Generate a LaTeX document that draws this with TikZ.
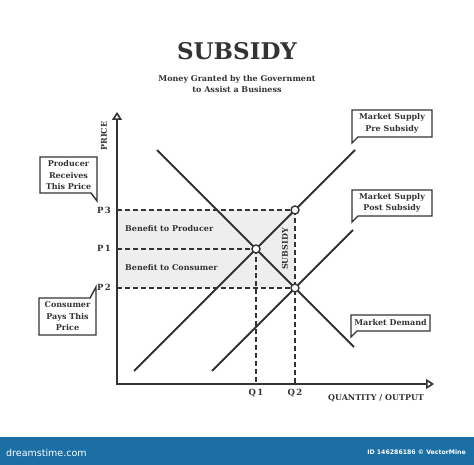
\documentclass[tikz,border=0pt]{standalone}
\usepackage{fontspec}
\setmainfont{DejaVu Serif}
\usetikzlibrary{arrows.meta}
\definecolor{ink}{HTML}{333333}
\definecolor{areagray}{HTML}{EEEEEE}
\definecolor{barblue}{HTML}{1B6FA5}
\tikzset{
  axisline/.style={ink, line width=2pt, -{Triangle[open, length=8pt, width=10pt, line width=1.6pt]}},
  curve/.style={ink, line width=1.8pt},
  guide/.style={ink, line width=1.4pt, dash pattern=on 5pt off 3pt},
  dot/.style={circle, draw=ink, fill=white, line width=1.4pt, minimum size=8pt, inner sep=0pt},
  callout/.style={draw=ink, line width=1.4pt, fill=white, line join=miter},
  lbl/.style={text=ink, font=\bfseries\fontsize{8}{11.5}\selectfont, align=center, inner sep=0pt},
  tick/.style={text=ink, font=\bfseries\fontsize{8.5}{10}\selectfont, inner sep=0pt},
}
\begin{document}
\begin{tikzpicture}[x=1pt, y=-1pt]
\useasboundingbox (0,0) rectangle (474,465);
\fill[white] (0,0) rectangle (474,465);

% title
\node[text=ink, font=\bfseries\fontsize{23}{24}\selectfont, inner sep=0pt] (title) at (237,51) {SUBSIDY};
\node[lbl] (subtitle) at (237,84) {Money Granted by the Government\\to Assist a Business};

% shaded area
\fill[areagray] (117,210) rectangle (295,288);

% coordinates
\coordinate (O) at (117,384);
\coordinate (Ytop) at (117,112);
\coordinate (Xend) at (434,384);
\coordinate (E1) at (256,249);
\coordinate (E3) at (295,210);
\coordinate (E2) at (295,288);
\coordinate (P3a) at (117,210);
\coordinate (P1a) at (117,249);
\coordinate (P2a) at (117,288);
\coordinate (Q1a) at (256,384);
\coordinate (Q2a) at (295,384);
\coordinate (Dstart) at (157,150);
\coordinate (Dend) at (354,347);
\coordinate (Sstart) at (134,371);
\coordinate (Send) at (355,150);
\coordinate (Tstart) at (212,371);
\coordinate (Tend) at (353,230);

% guides
\draw[guide] (P3a) -- (E3);
\draw[guide] (P1a) -- (E1);
\draw[guide] (P2a) -- (E2);
\draw[guide] (E1) -- (Q1a);
\draw[guide] (E3) -- (Q2a);

% curves
\draw[curve] (Dstart) -- (Dend);
\draw[curve] (Sstart) -- (Send);
\draw[curve] (Tstart) -- (Tend);

% axes
\draw[axisline] ([yshift=1pt]O) -- (Ytop);
\draw[axisline] ([xshift=-1pt]O) -- (Xend);

% equilibrium dots
\node[dot] (d1) at (E1) {};
\node[dot] (d3) at (E3) {};
\node[dot] (d2) at (E2) {};

% region labels
\node[lbl, anchor=west] (bprod) at (125,229) {Benefit to Producer};
\node[lbl, anchor=west] (bcons) at (125,268) {Benefit to Consumer};
\node[lbl, rotate=90] (subs) at (285,249) {SUBSIDY};

% axis labels
\node[tick, font=\bfseries\fontsize{8}{10}\selectfont, rotate=90] (price) at (104,136) {PRICE};
\node[tick] (p3) at (104,210) {P\,3};
\node[tick] (p1) at (104,248) {P\,1};
\node[tick] (p2) at (104,287) {P\,2};
\node[tick] (q1) at (256,393) {Q\,1};
\node[tick] (q2) at (295,393) {Q\,2};
\node[tick, font=\bfseries\fontsize{8}{10}\selectfont] (qty) at (376,398) {QUANTITY / OUTPUT};

% callouts
\draw[callout] (40,157) -- (97,157) -- (97,201) -- (91,193) -- (40,193) -- cycle;
\node[lbl] (prod) at (68.5,175.5) {Producer\\Receives\\This Price};

\draw[callout] (39,298) -- (90,298) -- (96,287) -- (96,335) -- (39,335) -- cycle;
\node[lbl] (cons) at (67.5,316.5) {Consumer\\Pays This\\Price};

\draw[callout] (352,110) -- (432,110) -- (432,137) -- (358,137) -- (352,143) -- cycle;
\node[lbl] (pre) at (392,123.5) {Market Supply\\Pre Subsidy};

\draw[callout] (352,190) -- (432,190) -- (432,216) -- (358,216) -- (352,222) -- cycle;
\node[lbl] (post) at (392,203) {Market Supply\\Post Subsidy};

\draw[callout] (351,315) -- (430,315) -- (430,331) -- (357,331) -- (351,337) -- cycle;
\node[lbl] (dem) at (390.5,323) {Market Demand};

% bottom bar
\fill[barblue] (0,437) rectangle (474,465);
\node[text=white, font=\fontspec{DejaVu Sans}\fontsize{9.5}{11}\selectfont, anchor=west, inner sep=0pt] (ds) at (6,453) {dreamstime.com};
\node[text=white, font=\fontspec{DejaVu Sans}\bfseries\fontsize{6.2}{7}\selectfont, anchor=east, inner sep=0pt] (id) at (466,452) {ID 146286186 © VectorMine};
\end{tikzpicture}
\end{document}
